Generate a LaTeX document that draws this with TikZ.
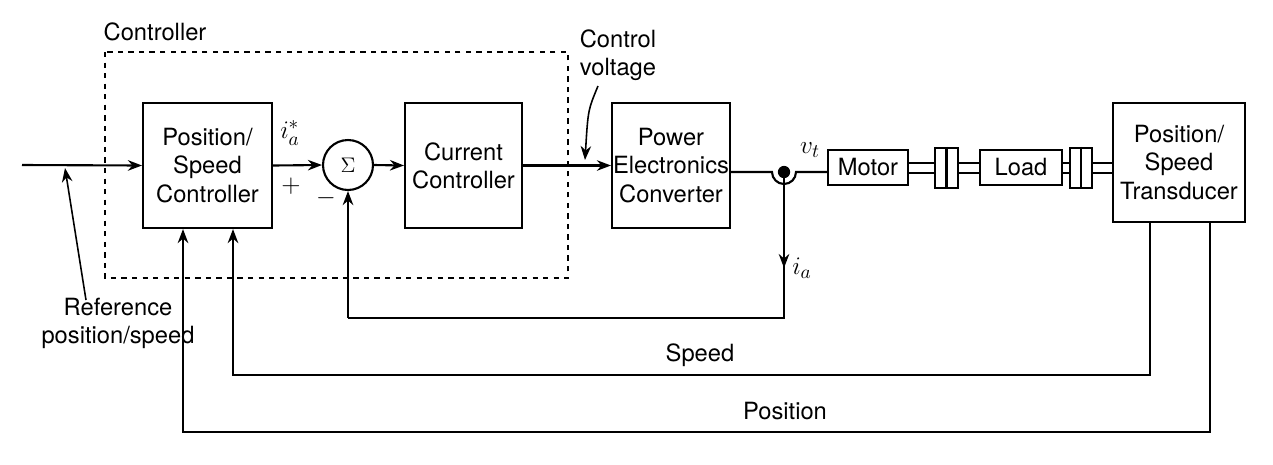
\documentclass[tikz,border=0pt]{standalone}
\usepackage{fontspec}
\setmainfont{TeX Gyre Heros}
\usetikzlibrary{arrows.meta}
\begin{document}
\begin{tikzpicture}[x=0.02cm,y=-0.02cm,line width=1.2pt,
  blk/.style={draw,align=center,inner sep=0pt,font=\fontsize{13.5}{16}\selectfont},
  lbl/.style={font=\fontsize{13.5}{16}\selectfont,align=center,inner sep=1pt},
  mlbl/.style={font=\fontsize{15}{17}\selectfont,inner sep=1pt},
  arr/.style={-{Stealth[length=8pt,width=6pt]}},
  shaft/.style={line width=1.5pt}]
\useasboundingbox (0,0) rectangle (1273,464);
\draw[dashed,line width=0.9pt] (105,52) rectangle (568,278);
\node[lbl] (ctl) at (155,32) {Controller};
\node[blk,minimum width=2.58cm,minimum height=2.5cm] (psc) at (207.5,165.5) {Position/\\Speed\\Controller};
\coordinate (in) at (22,165);
\draw[arr] (in) -- (psc.west);
\node[lbl] (ref) at (118,323) {Reference\\position/speed};
\coordinate (refa) at (65,168);
\draw[arr,line width=0.9pt] (86,300) -- (refa);
\node[draw,circle,inner sep=0pt,minimum size=1cm,font=\large] (sum) at (348,165) {$\Sigma$};
\draw[arr] (psc.east) -- (sum.west);
\node[mlbl] (ias) at (290,133) {$i_a^*$};
\node[mlbl] (plus) at (291,186) {$+$};
\node[mlbl] (minus) at (326,198) {$-$};
\node[blk,minimum width=2.34cm,minimum height=2.5cm] (cc) at (463.5,165.5) {Current\\Controller};
\draw[arr] (sum.east) -- (cc.west);
\node[blk,minimum width=2.36cm,minimum height=2.5cm] (pec) at (671,165.5) {Power\\Electronics\\Converter};
\draw[arr] (cc.east) -- (pec.west);
\node[lbl] (cv) at (618,55) {Control\\voltage};
\coordinate (cva) at (585,160);
\draw[arr,line width=0.9pt] (598,86) .. controls (588,110) .. (cva);
\coordinate (dot) at (784,172);
\node[blk,minimum width=1.6cm,minimum height=0.7cm] (mot) at (868,167.5) {Motor};
\draw (pec.east |- 0,172) -- (772,172) arc[start angle=180,end angle=0,radius=12] -- (mot.west |- 0,172);
\fill (dot) circle (3.5pt);
\node[mlbl] (vt) at (810,150) {$v_t$};
\coordinate (ib) at (784,318);
\draw (dot) -- (ib) -- (348,318);
\draw[arr] (784,200) -- (784,268);
\draw[arr] (348,318) -- (sum.south);
\node[mlbl] (ia) at (802,268) {$i_a$};
% couplings
\node[draw,minimum width=0.46cm,minimum height=0.8cm,inner sep=0pt] (c1) at (946.5,168) {};
\draw (c1.north) -- (c1.south);
\node[blk,minimum width=1.64cm,minimum height=0.7cm] (load) at (1021,167.5) {Load};
\node[draw,minimum width=0.44cm,minimum height=0.8cm,inner sep=0pt] (c2) at (1081,168) {};
\draw (c2.north) -- (c2.south);
\node[blk,minimum width=2.64cm,minimum height=2.38cm] (tr) at (1179,162.5) {Position/\\Speed\\Transducer};
\foreach \a/\b in {mot/c1,c1/load,load/c2,c2/tr}{
  \draw[shaft] (\a.east |- 0,163) -- (\b.west |- 0,163);
  \draw[shaft] (\a.east |- 0,173) -- (\b.west |- 0,173);
}
% feedback
\coordinate (s1) at (1150,375);
\coordinate (s2) at (233,375);
\draw[arr] (tr.south -| s1) -- (s1) -- (s2) -- (psc.south -| s2);
\node[lbl] (spd) at (700,355) {Speed};
\coordinate (p1) at (1210,432);
\coordinate (p2) at (183,432);
\draw[arr] (tr.south -| p1) -- (p1) -- (p2) -- (psc.south -| p2);
\node[lbl] (pos) at (785,411) {Position};
\end{tikzpicture}
\end{document}
